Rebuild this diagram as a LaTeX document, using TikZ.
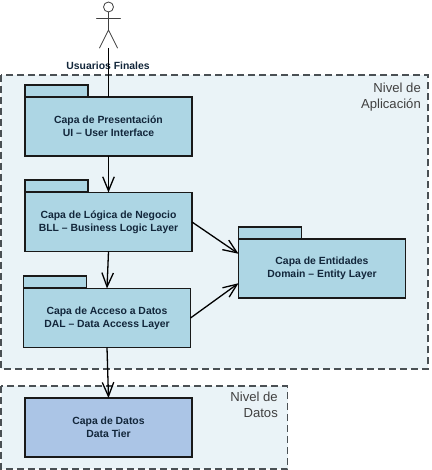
\documentclass[tikz,border=0pt]{standalone}
\usepackage{fontspec}
\setmainfont{Liberation Sans}
\usetikzlibrary{arrows.meta,calc}
\definecolor{pkg}{HTML}{ADD6E4}
\definecolor{tier}{HTML}{ABC5E6}
\definecolor{zone}{HTML}{EAF3F7}
\definecolor{ink}{HTML}{12263A}
\definecolor{dashc}{HTML}{4A5054}
\tikzset{
  x=1pt,y=-1pt,
  zonebox/.style={draw=dashc,fill=zone,line width=1.2pt,dash pattern=on 7pt off 4pt},
  pkgbox/.style={draw=black!90,fill=pkg,line width=1.5pt,minimum width=167pt,minimum height=59pt,inner sep=0pt,outer sep=0pt,
    align=center,font=\fontsize{10.4}{13}\selectfont\bfseries,text=ink},
  tierbox/.style={pkgbox,fill=tier},
  tabbox/.style={draw=black!90,fill=pkg,line width=1.2pt,minimum width=63pt,minimum height=12pt,inner sep=0pt,outer sep=0pt},
  zonelabel/.style={align=right,anchor=north east,inner sep=0pt,font=\fontsize{13.1}{16}\selectfont,text=black!75},
  conn/.style={draw=black,line width=1.3pt},
  arr/.style={conn,-{Straight Barb[length=14pt,width=11.5pt,line width=1.3pt]}},
  actorline/.style={draw=black!75,line width=0.8pt,line cap=round}
}
\begin{document}
\begin{tikzpicture}
\useasboundingbox (0,0) rectangle (431,470);
\fill[white] (0,0) rectangle (431,470);
% zones
\path[zonebox] (1,75) rectangle (428,369);
\path[zonebox] (1,386) rectangle (287.5,469);
\node[zonelabel] (zoneapp) at (421,82.5) {Nivel de\\Aplicación};
\node[zonelabel] (zonedat) at (278,391.5) {Nivel de\\Datos};
% actor
\draw[actorline] (108.5,7) circle (5);
\draw[actorline] (108.5,12) -- (108.5,30) (96.5,18.5) -- (120.5,18.5) (99.5,48) -- (108.5,30) -- (117.5,48);
\coordinate (actor) at (108.5,48);
\node[inner sep=0pt,font=\fontsize{10.4}{12}\selectfont\bfseries,text=ink] (usr) at (108,66) {Usuarios Finales};
% tabs
\node[tabbox,anchor=south west] (tpres) at (25,97) {};
\node[tabbox,anchor=south west] (tlog) at (25,192) {};
\node[tabbox,anchor=south west] (tacc) at (23.5,288) {};
\node[tabbox,anchor=south west] (tent) at (238.5,239) {};
% packages
\node[pkgbox,anchor=north west] (pres) at (25,97) {Capa de Presentación\\UI – User Interface};
\node[pkgbox,anchor=north west] (logi) at (25,192.5) {Capa de Lógica de Negocio\\BLL – Business Logic Layer};
\node[pkgbox,anchor=north west] (acce) at (23.5,288.5) {Capa de Acceso a Datos\\DAL – Data Access Layer};
\node[pkgbox,anchor=north west] (enti) at (238.5,239) {Capa de Entidades\\Domain – Entity Layer};
\node[tierbox,anchor=north west] (dato) at (25,398) {Capa de Datos\\Data Tier};
% anchor points on the entity box
\coordinate (e1) at ($(enti.north west)!0.25!(enti.south west)$);
\coordinate (e2) at ($(enti.north west)!0.75!(enti.south west)$);
% connectors
\draw[conn] (actor) -- (actor |- pres.north);
\draw[arr] (pres.south) -- (logi.north);
\draw[arr] (logi.south) -- (acce.north);
\draw[arr] (acce.south) -- (dato.north);
\draw[arr] (logi.east) -- (e1);
\draw[arr] (acce.east) -- (e2);
\end{tikzpicture}
\end{document}
